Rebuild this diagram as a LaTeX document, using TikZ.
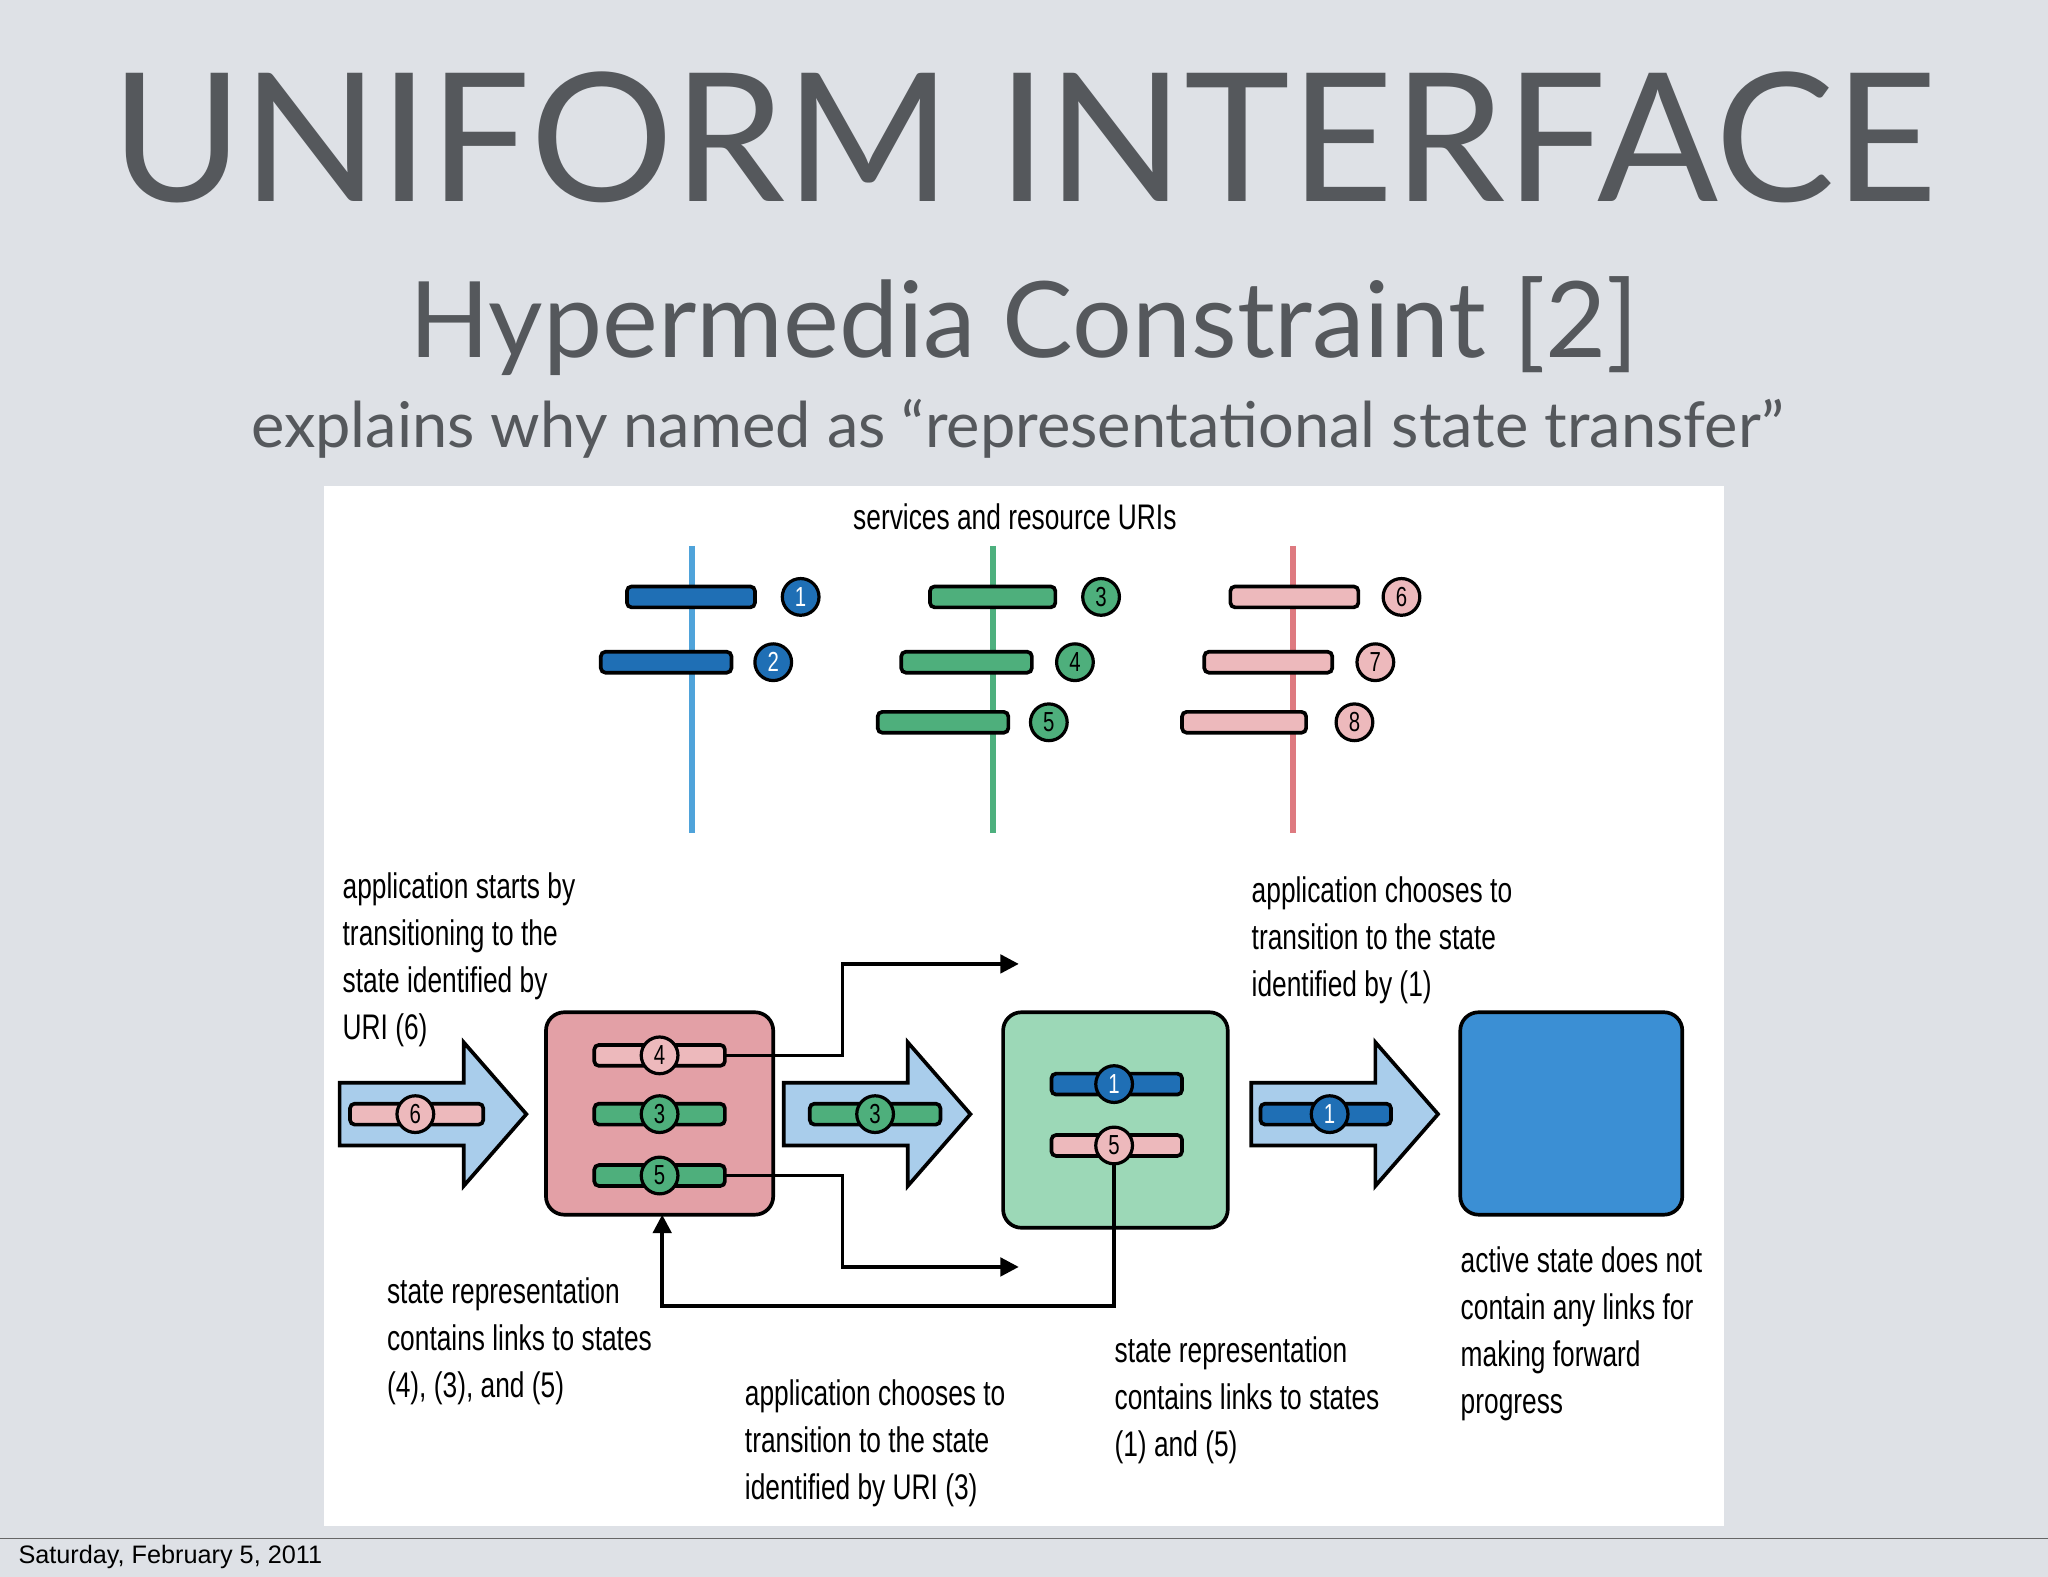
\documentclass[tikz,border=0pt]{standalone}
\usepackage{fontspec}
\setmainfont{Lato}
\newfontfamily\cond{Liberation Sans}[FakeStretch=0.74]
\newfontfamily\foot{Liberation Sans}
\usetikzlibrary{arrows.meta}
\definecolor{bg}{HTML}{DEE1E6}
\definecolor{ttl}{HTML}{55585C}
\definecolor{cblue}{HTML}{1F6FB5}
\definecolor{cgreen}{HTML}{4EAF7C}
\definecolor{cpink}{HTML}{EDB9BC}
\definecolor{lblue}{HTML}{4FA3DA}
\definecolor{lgreen}{HTML}{4DB07E}
\definecolor{lpink}{HTML}{DE7A80}
\definecolor{bxpink}{HTML}{E3A0A6}
\definecolor{bxgreen}{HTML}{9CD8B7}
\definecolor{bxblue}{HTML}{3B8FD4}
\definecolor{arr}{HTML}{A9CDEB}
\tikzset{
 bar/.style={draw=black,line width=1.6pt,rounded corners=2pt,fill=#1},
 num/.style={circle,draw=black,line width=1.4pt,fill=#1,minimum size=16pt,inner sep=0pt,font=\cond\fontsize{12}{12}\selectfont},
 lbl/.style={anchor=north west,align=left,font=\cond\fontsize{15.5}{20.5}\selectfont,inner sep=0pt},
 fat/.style={draw=black,line width=1.6pt,fill=arr,line join=miter},
 box/.style={draw=black,line width=1.6pt,rounded corners=8pt,fill=#1},
 link/.style={line width=1.6pt,-{Triangle[length=8pt,width=8pt]}}
}
\newcommand{\fatarrow}[2]{\draw[fat] (#1,#2-24) -- (#1+95,#2-24) -- (#1+95,#2-55) -- (#1+143,#2) -- (#1+95,#2+55) -- (#1+95,#2+24) -- (#1,#2+24) -- cycle;}
\begin{document}
\begin{tikzpicture}[x=0.02cm,y=-0.02cm]
\fill[bg] (0,0) rectangle (1568,1207);
\useasboundingbox (0,0) rectangle (1568,1207);
\node[ttl,font=\fontsize{78}{78}\selectfont] (t1) at (784,105) {UNIFORM INTERFACE};
\node[ttl,font=\fontsize{46}{46}\selectfont] (t2) at (784,250) {Hypermedia Constraint [2]};
\node[ttl,font=\fontsize{27.5}{27.5}\selectfont] (t3) at (779,328) {explains why named as “representational state transfer”};
\fill[white] (248,372) rectangle (1320,1168);
\draw[black!60,line width=0.6pt] (0,1178) -- (1568,1178);
\node[anchor=west,font=\foot\fontsize{11}{11}\selectfont] (dt) at (8,1192) {Saturday, February 5, 2011};
\node[font=\cond\fontsize{15.5}{15.5}\selectfont] (srv) at (777,396) {services and resource URIs};
% service lines
\draw[lblue,line width=2.5pt] (530,418) -- (530,638);
\draw[lgreen,line width=2.5pt] (760,418) -- (760,638);
\draw[lpink,line width=2.5pt] (990,418) -- (990,638);
\draw[bar=cblue] (480,449) rectangle (578,465); \node[num=cblue,text=white] (s1) at (613,457) {1};
\draw[bar=cblue] (460,499) rectangle (560,515); \node[num=cblue,text=white] (s2) at (592,507) {2};
\draw[bar=cgreen] (712,449) rectangle (808,465); \node[num=cgreen] (s3) at (843,457) {3};
\draw[bar=cgreen] (690,499) rectangle (790,515); \node[num=cgreen] (s4) at (823,507) {4};
\draw[bar=cgreen] (672,545) rectangle (772,561); \node[num=cgreen] (s5) at (803,553) {5};
\draw[bar=cpink] (942,449) rectangle (1040,465); \node[num=cpink] (s6) at (1073,457) {6};
\draw[bar=cpink] (922,499) rectangle (1020,515); \node[num=cpink] (s7) at (1053,507) {7};
\draw[bar=cpink] (905,545) rectangle (1000,561); \node[num=cpink] (s8) at (1037,553) {8};
% boxes
\draw[box=bxpink] (418,775) rectangle (592,930); \coordinate (pb) at (507,930);
\draw[box=bxgreen] (768,775) rectangle (940,940);
\draw[box=bxblue] (1118,775) rectangle (1288,930);
% fat arrows
\fatarrow{260}{853}
\fatarrow{600}{853}
\fatarrow{958}{853}
% tokens in arrows
\draw[bar=cpink] (268,845) rectangle (370,861); \node[num=cpink] (k6) at (318,853) {6};
\draw[bar=cgreen] (620,845) rectangle (720,861); \node[num=cgreen] (k3) at (670,853) {3};
\draw[bar=cblue] (965,845) rectangle (1065,861); \node[num=cblue,text=white] (k1) at (1018,853) {1};
% tokens in pink box
\draw[bar=cpink] (455,800) rectangle (555,816); \node[num=cpink] (p4) at (505,808) {4}; \coordinate (p4e) at (555,808);
\draw[bar=cgreen] (455,845) rectangle (555,861); \node[num=cgreen] (p3) at (505,853) {3};
\draw[bar=cgreen] (455,892) rectangle (555,908); \node[num=cgreen] (p5) at (505,900) {5}; \coordinate (p5e) at (555,900);
% tokens in green box
\draw[bar=cblue] (805,822) rectangle (905,838); \node[num=cblue,text=white] (g1) at (853,830) {1};
\draw[bar=cpink] (805,869) rectangle (905,885); \node[num=cpink] (g5) at (853,877) {5};
% links
\coordinate (up) at (780,738); \coordinate (dn) at (780,970);
\draw[link] (p4e) -- (645,808) -- (645,738) -- (up);
\draw[link] (p5e) -- (645,900) -- (645,970) -- (dn);
\draw[link] (g5.south) -- (853,1000) -- (507,1000) -- (pb);
% labels
\node[lbl] (l1) at (262,668) {application starts by\\transitioning to the\\state identified by\\URI (6)};
\node[lbl] (l2) at (958,671) {application chooses to\\transition to the state\\identified by (1)};
\node[lbl] (l3) at (296,978) {state representation\\contains links to states\\(4), (3), and (5)};
\node[lbl] (l4) at (570,1056) {application chooses to\\transition to the state\\identified by URI (3)};
\node[lbl] (l5) at (853,1023) {state representation\\contains links to states\\(1) and (5)};
\node[lbl] (l6) at (1118,954) {active state does not\\contain any links for\\making forward\\progress};
\end{tikzpicture}
\end{document}
